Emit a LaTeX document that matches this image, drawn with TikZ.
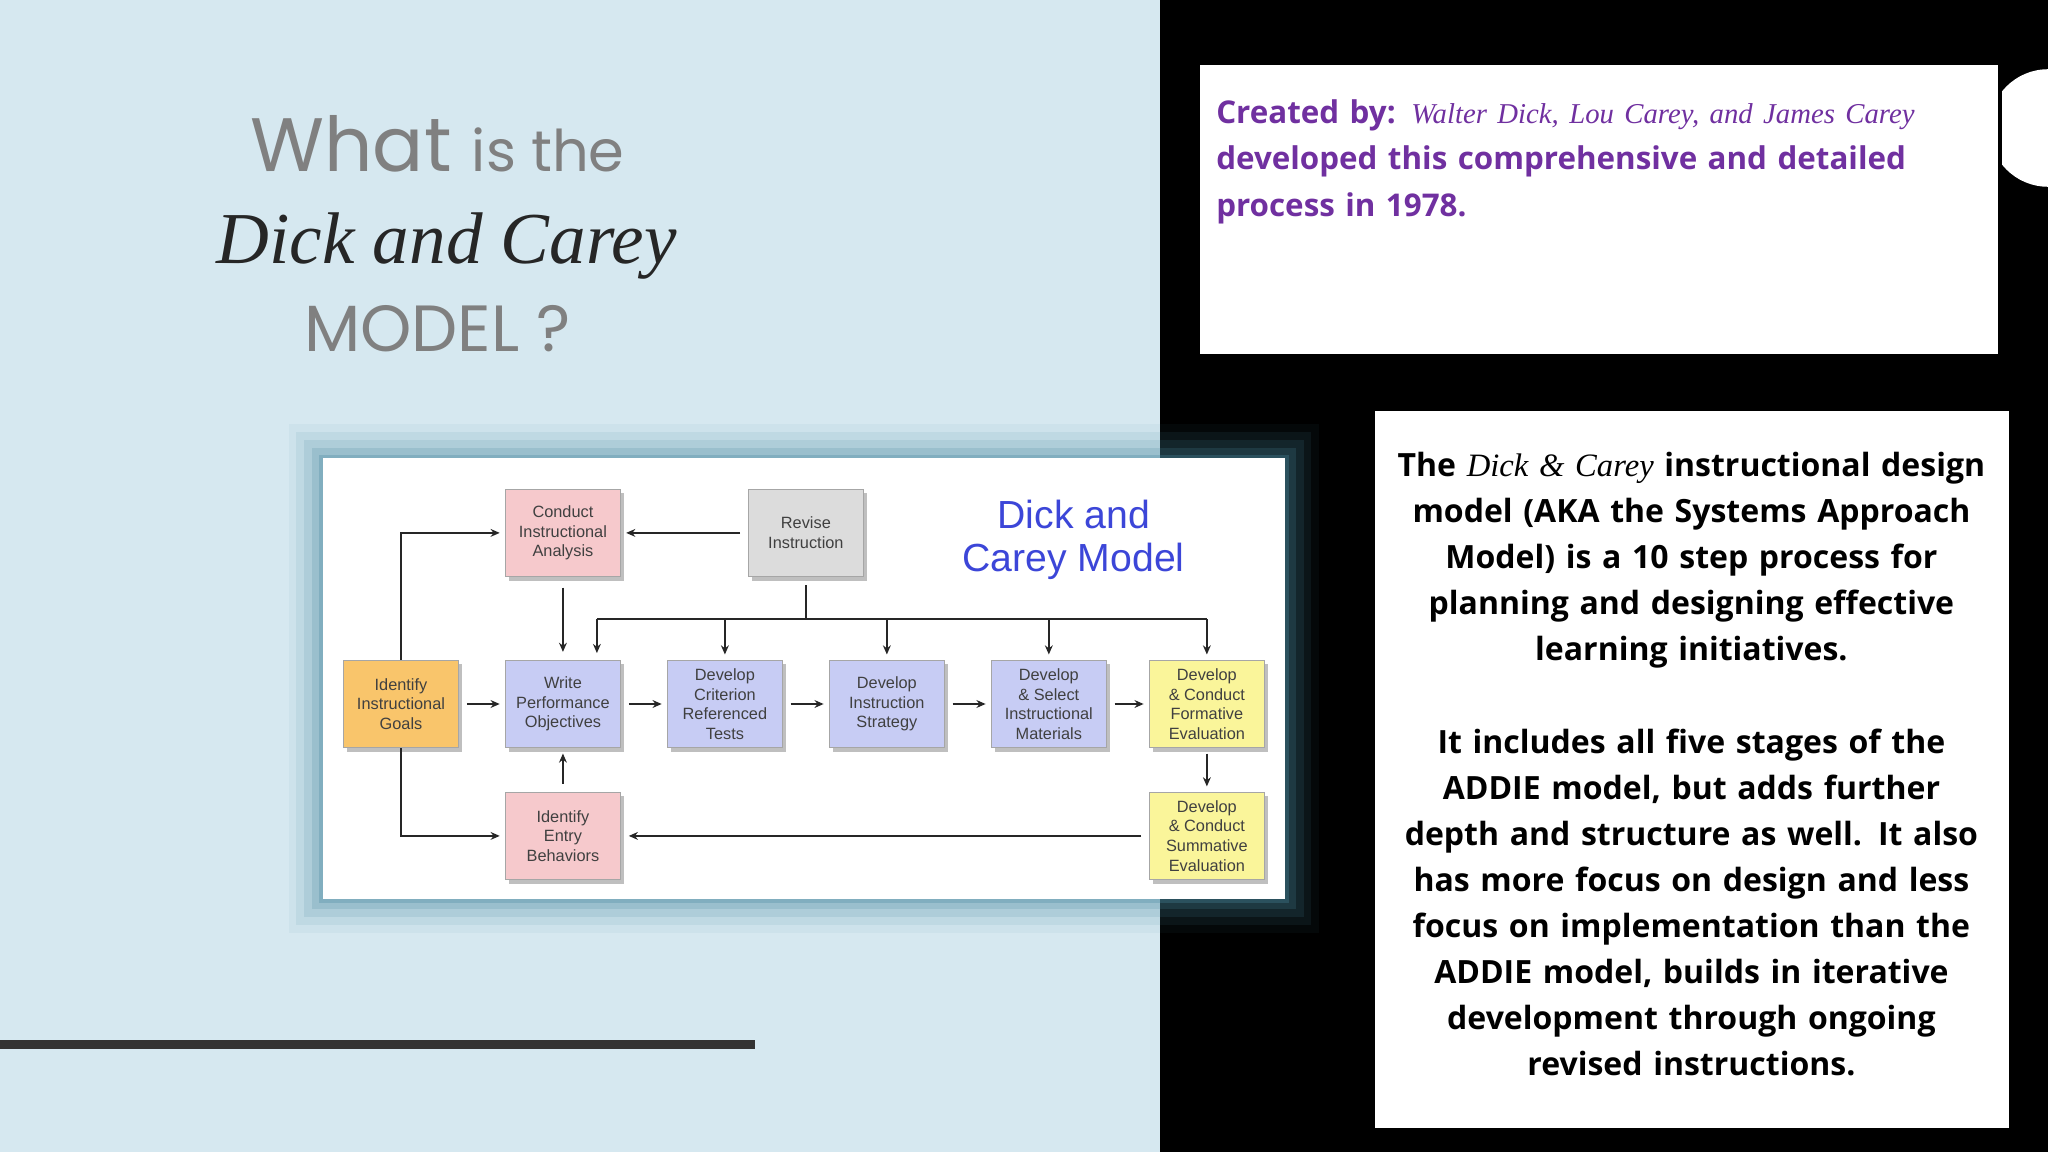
\documentclass[tikz,border=0pt]{standalone}
\usepackage{fontspec}
\setmainfont{Open Sans}
\newfontfamily\titlefont{Poppins}
\newfontfamily\scriptf{Liberation Serif}
\newfontfamily\boxf{Liberation Sans}
\usetikzlibrary{arrows.meta}
\definecolor{bgblue}{HTML}{D6E8F0}
\definecolor{purp}{HTML}{7030A0}
\definecolor{pinkb}{HTML}{F6C9CC}
\definecolor{grayb}{HTML}{DCDCDC}
\definecolor{orab}{HTML}{F9C56B}
\definecolor{lavb}{HTML}{C7CCF4}
\definecolor{yelb}{HTML}{FAF59A}
\definecolor{dcblue}{HTML}{3C46D8}
\definecolor{glow}{HTML}{4A8AA0}
\tikzset{
 stepbox/.style={draw=black!35,line width=0.8pt,minimum width=88pt,minimum height=67pt,inner sep=1pt,align=center,font=\boxf\fontsize{12.5}{15}\selectfont,text=black!75},
 shd/.style={fill=black!25,draw=none,minimum width=88pt,minimum height=67pt},
 arr/.style={-{Stealth[length=7pt,width=6pt]},line width=1.2pt,black!85},
 ln/.style={line width=1.2pt,black!85}
}
\begin{document}
\begin{tikzpicture}[x=1pt,y=-1pt]
\useasboundingbox (0,0) rectangle (1568,882);
\fill[bgblue] (0,0) rectangle (888,882);
\fill[black] (888,0) rectangle (1568,882);
% title
\node[text=black!50,font=\titlefont\fontsize{58}{60}\selectfont] at (335,110) {What {\fontsize{44}{46}\selectfont is the}};
\node[text=black!85,font=\scriptf\itshape\fontsize{56}{60}\selectfont] at (342,188) {Dick and Carey};
\node[text=black!50,font=\titlefont\fontsize{50}{52}\selectfont] at (335,252) {MODEL ?};
\draw[line width=7pt,black!80] (0,800) -- (578,800);
% glow
\foreach \i/\o in {26/0.06,20/0.1,14/0.14,8/0.2,3/0.3}{
 \fill[glow,opacity=\o] (247-\i,351-\i) rectangle (984+\i,688+\i);}
\fill[white] (247,351) rectangle (984,688);
% right boxes
\fill[white] (1568,98) circle (45);
\fill[white] (919,50) rectangle (1530,271);
\fill[black] (1530,40) rectangle (1533,280);
\fill[white] (1053,315) rectangle (1538,864);
\node[anchor=north west,text width=570pt,align=left,text=purp,font=\bfseries\fontsize{24}{35.5}\selectfont,inner sep=0pt] (cb) at (931,76)
 {Created by: {\scriptf\mdseries\itshape\fontsize{22}{26}\selectfont Walter Dick, Lou Carey, and James Carey}\\ developed this comprehensive and detailed\\ process in 1978.};
\node[text width=470pt,align=center,font=\bfseries\fontsize{24.5}{35.3}\selectfont,inner sep=0pt,anchor=north] (para) at (1295,346)
 {\hyphenpenalty=10000 The {\scriptf\mdseries\itshape\fontsize{25}{26}\selectfont Dick \& Carey} instructional design\\ model (AKA the Systems Approach\\ Model) is a 10 step process for\\ planning and designing effective\\ learning initiatives.\\[35.3pt]
 It includes all five stages of the\\ ADDIE model, but adds further\\ depth and structure as well. It also\\ has more focus on design and less\\ focus on implementation than the\\ ADDIE model, builds in iterative\\ development through ongoing\\ revised instructions.};
% diagram nodes
\foreach \x/\y in {431/408,617/408,307/539,431/539,555/539,679/539,803/539,924/539,431/640,924/640}{
 \node[shd] at (\x+3,\y+3) {};}
\node[stepbox,fill=pinkb] (cia) at (431,408) {Conduct\\Instructional\\Analysis};
\node[stepbox,fill=grayb] (rev) at (617,408) {Revise\\Instruction};
\node[stepbox,fill=orab] (goal) at (307,539) {Identify\\Instructional\\Goals};
\node[stepbox,fill=lavb] (wpo) at (431,539) {Write\\Performance\\Objectives};
\node[stepbox,fill=lavb] (crt) at (555,539) {Develop\\Criterion\\Referenced\\Tests};
\node[stepbox,fill=lavb] (dis) at (679,539) {Develop\\Instruction\\Strategy};
\node[stepbox,fill=lavb] (dsm) at (803,539) {Develop\\\& Select\\Instructional\\Materials};
\node[stepbox,fill=yelb] (fe) at (924,539) {Develop\\\& Conduct\\Formative\\Evaluation};
\node[stepbox,fill=pinkb] (ieb) at (431,640) {Identify\\Entry\\Behaviors};
\node[stepbox,fill=yelb] (se) at (924,640) {Develop\\\& Conduct\\Summative\\Evaluation};
\node[text=dcblue,align=center,font=\boxf\fontsize{30}{33}\selectfont] (ttl) at (822,413) {Dick and\\Carey Model};
% connectors
\draw[arr] (goal.north) -- (goal.north|-cia.west) -- ([xshift=-4pt]cia.west);
\draw[arr] (goal.south) -- (goal.south|-ieb.west) -- ([xshift=-4pt]ieb.west);
\draw[arr] ([xshift=-6pt]rev.west) -- ([xshift=4pt]cia.east);
\draw[arr] ([yshift=-8pt]cia.south) -- ([yshift=6pt]wpo.north);
\coordinate (hub) at (617,474);
\draw[ln] ([yshift=-6pt]rev.south) -- (hub);
\draw[ln] (457,474) -- (924,474);
\draw[arr] (457,474) -- (457,500);
\foreach \n in {crt,dis,dsm,fe}{\draw[arr] (\n.north|-hub) -- ([yshift=4pt]\n.north);}
\draw[arr] ([xshift=6pt]goal.east) -- ([xshift=-4pt]wpo.west);
\draw[arr] ([xshift=6pt]wpo.east) -- ([xshift=-4pt]crt.west);
\draw[arr] ([xshift=6pt]crt.east) -- ([xshift=-4pt]dis.west);
\draw[arr] ([xshift=6pt]dis.east) -- ([xshift=-4pt]dsm.west);
\draw[arr] ([xshift=6pt]dsm.east) -- ([xshift=-4pt]fe.west);
\draw[arr] ([yshift=-4pt]fe.south) -- ([yshift=4pt]se.north);
\draw[arr] ([xshift=-6pt]se.west) -- ([xshift=6pt]ieb.east);
\draw[arr] ([yshift=6pt]ieb.north) -- ([yshift=-4pt]wpo.south);
\end{tikzpicture}
\end{document}
